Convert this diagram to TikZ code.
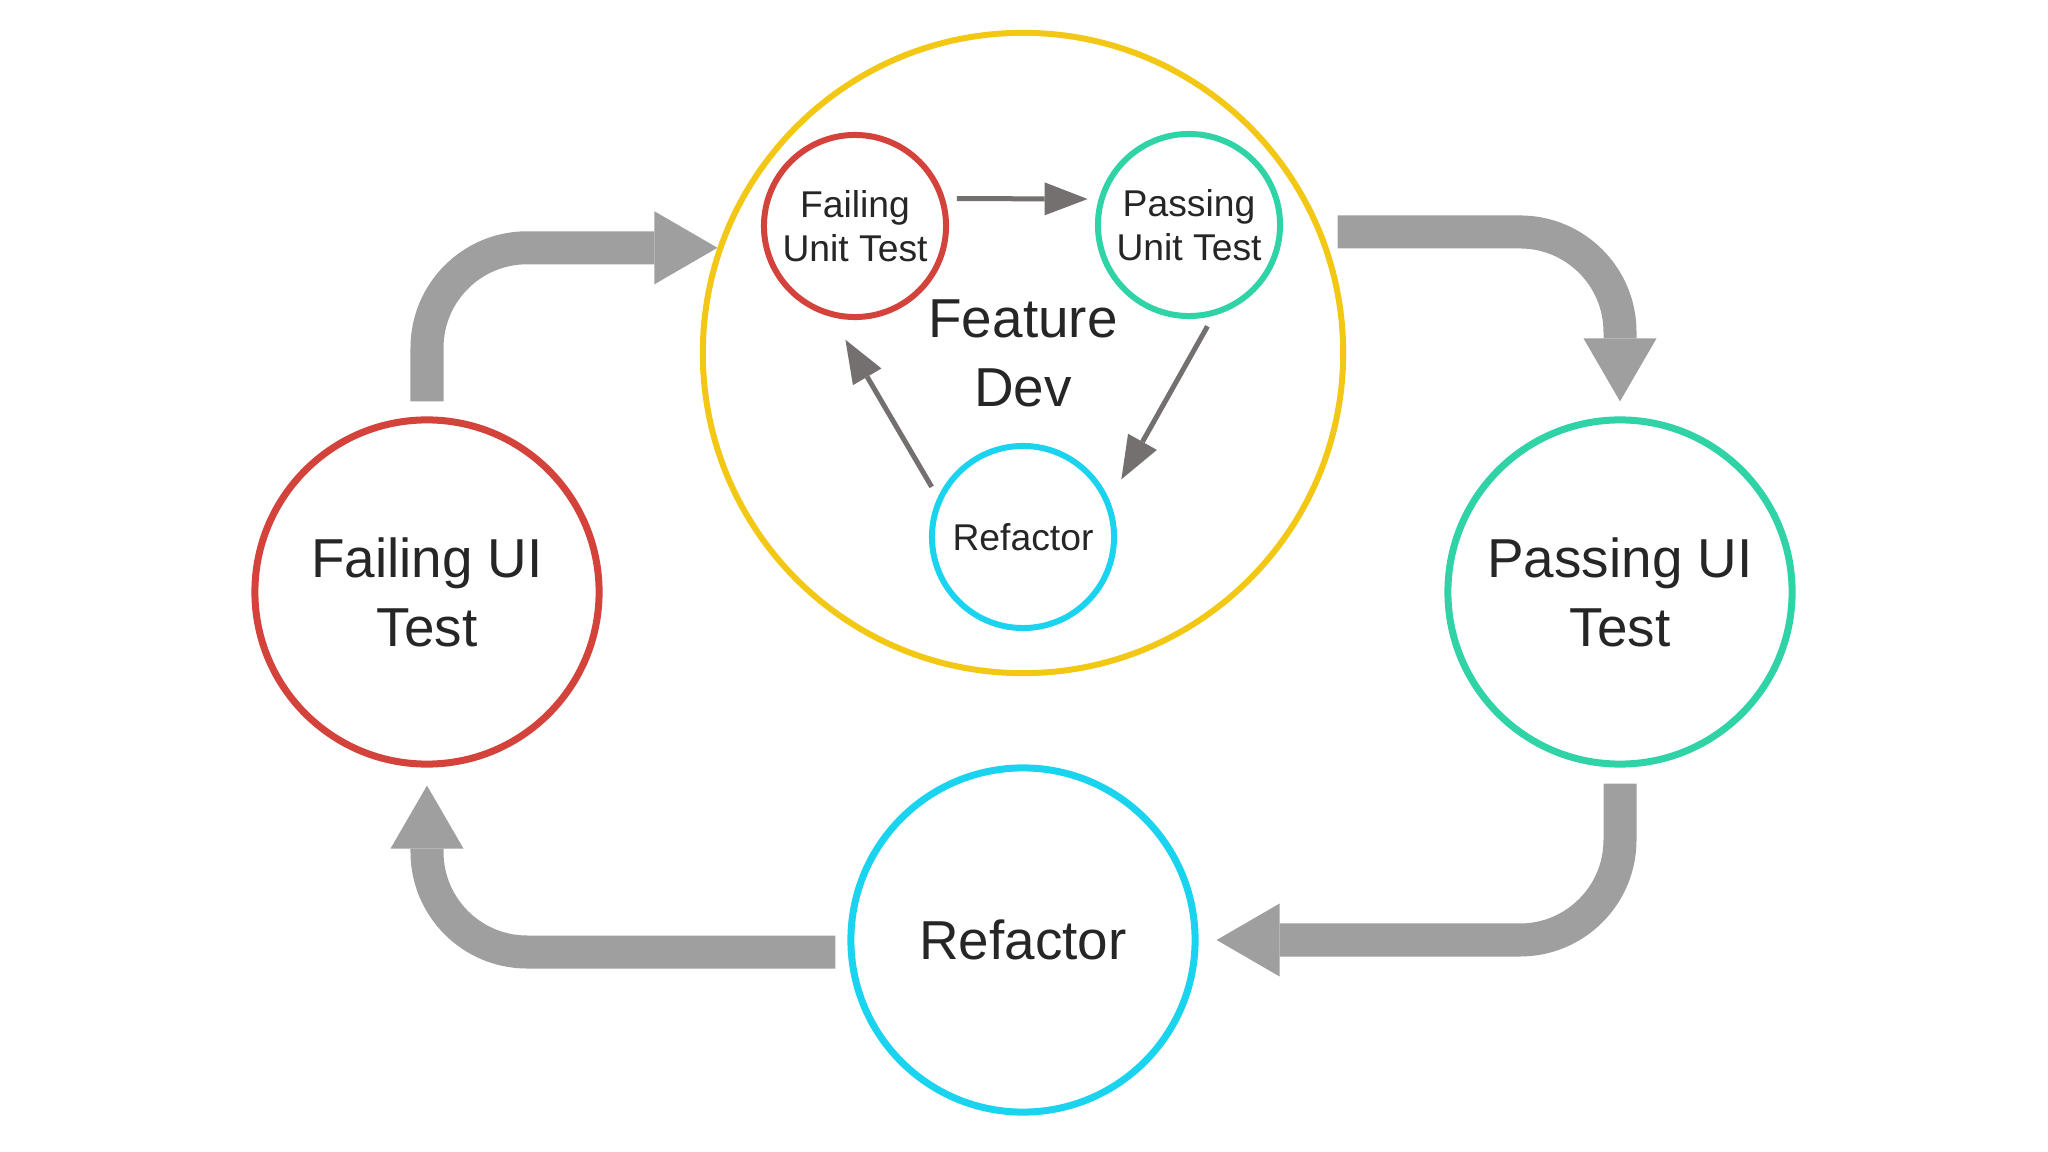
\documentclass[tikz,border=0pt]{standalone}
\usepackage{fontspec}
\setmainfont{Liberation Sans}
\usetikzlibrary{arrows.meta}
\definecolor{failred}{HTML}{D4433B}
\definecolor{passgreen}{HTML}{2FD3A6}
\definecolor{refcyan}{HTML}{1AD3EE}
\definecolor{devyellow}{HTML}{F3C814}
\definecolor{flowgray}{HTML}{A09FA0}
\definecolor{stepgray}{HTML}{747070}
\begin{document}
\begin{tikzpicture}[x=0.01cm, y=-0.01cm,
  bigstage/.style={circle, draw, line width=0.07cm, inner sep=0pt, minimum size=3.44cm,
    align=center, text=black!85, font=\fontsize{15.6}{19.6}\selectfont},
  smallstage/.style={circle, draw, line width=0.06cm, inner sep=0pt, minimum size=1.82cm,
    align=center, text=black!85, font=\fontsize{10.6}{12.5}\selectfont},
  flow/.style={draw=flowgray, line width=0.33cm, rounded corners=1cm,
    -{Triangle[width=0.73cm, length=0.63cm, line width=0pt]}},
  unitflow/.style={draw=stepgray, line width=0.05cm, shorten <=0.12cm,
    -{Triangle[width=0.33cm, length=0.43cm, line width=0pt]}}]
\fill[white] (0,0) rectangle (2048,1152);
% Feature dev cycle
\node[circle, draw=devyellow, line width=0.06cm, inner sep=0pt, minimum size=6.4cm,
  align=center, text=black!85, font=\fontsize{15.6}{19.6}\selectfont] (feature) at (1023,353) {Feature\\Dev};
\node[smallstage, draw=failred] (fut) at (855,226) {Failing\\Unit Test};
\node[smallstage, draw=passgreen] (put) at (1189,225) {Passing\\Unit Test};
\node[smallstage, draw=refcyan] (rfs) at (1023,537) {Refactor};
\draw[unitflow, shorten >=0.11cm] (fut.17) -- (put.164);
\draw[unitflow, shorten >=0.24cm] (put.285) -- (rfs.23);
\draw[unitflow, shorten >=0.26cm] (rfs.155) -- (fut.256.5);
% UI test cycle
\node[bigstage, draw=failred] (failui) at (427,592) {Failing UI\\Test};
\node[bigstage, draw=passgreen] (passui) at (1620,592) {Passing UI\\Test};
\node[bigstage, draw=refcyan] (refbig) at (1023,940) {Refactor};
\draw[flow] ([yshift=0.15cm]failui.north) |- (feature.161);
\draw[flow] ([xshift=0.15cm]feature.22) -| ([yshift=0.15cm]passui.north);
\draw[flow] ([yshift=-0.16cm]passui.south) |- ([xshift=0.18cm]refbig.east);
\draw[flow] ([xshift=-0.12cm,yshift=-0.12cm]refbig.west) -| ([yshift=-0.18cm]failui.south);
\end{tikzpicture}
\end{document}
